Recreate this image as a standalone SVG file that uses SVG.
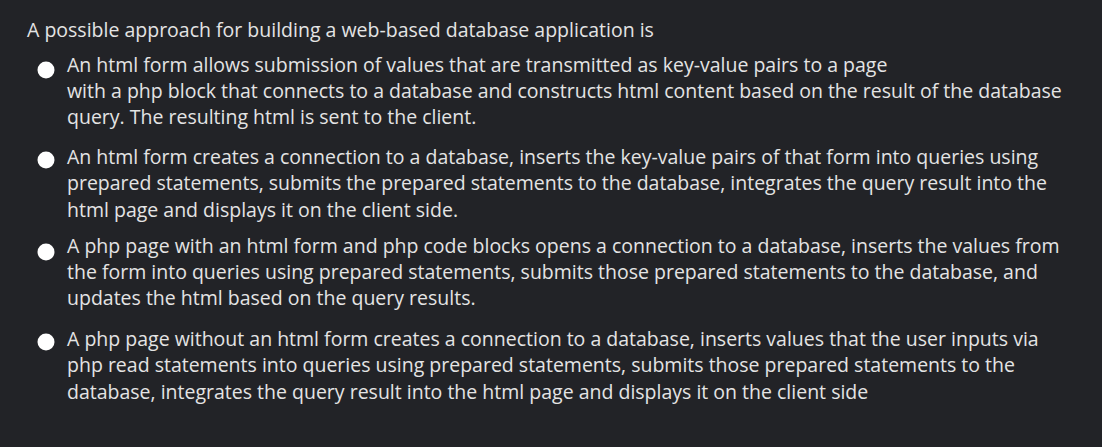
<svg xmlns="http://www.w3.org/2000/svg" width="1102" height="447" viewBox="0 0 1102 447">
<style>
text{font-family:"Open Sans","Liberation Sans",sans-serif;font-size:19.5px;fill:#e4e4e4}
.b{fill:#ffffff}
</style>
<rect width="1102" height="447" fill="#222327"/>
<text x="27" y="37">A possible approach for building a web-based database application is</text>
<g id="opt1"><circle class="b" cx="46" cy="70" r="8.5"/>
<text x="67" y="72">An html form allows submission of values that are transmitted as key-value pairs to a page</text>
<text x="67" y="98">with a php block that connects to a database and constructs html content based on the result of the database</text>
<text x="67" y="124">query. The resulting html is sent to the client.</text></g>
<g id="opt2"><circle class="b" cx="46" cy="160" r="8.5"/>
<text x="67" y="164">An html form creates a connection to a database, inserts the key-value pairs of that form into queries using</text>
<text x="67" y="190">prepared statements, submits the prepared statements to the database, integrates the query result into the</text>
<text x="67" y="217">html page and displays it on the client side.</text></g>
<g id="opt3"><circle class="b" cx="46" cy="252" r="8.5"/>
<text x="67" y="253">A php page with an html form and php code blocks opens a connection to a database, inserts the values from</text>
<text x="67" y="279">the form into queries using prepared statements, submits those prepared statements to the database, and</text>
<text x="67" y="305">updates the html based on the query results.</text></g>
<g id="opt4"><circle class="b" cx="46" cy="342" r="8.5"/>
<text x="67" y="346">A php page without an html form creates a connection to a database, inserts values that the user inputs via</text>
<text x="67" y="372">php read statements into queries using prepared statements, submits those prepared statements to the</text>
<text x="67" y="399">database, integrates the query result into the html page and displays it on the client side</text></g>
</svg>
